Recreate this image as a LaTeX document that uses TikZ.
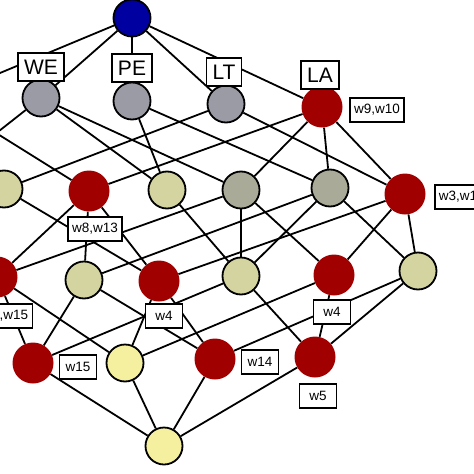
\documentclass[tikz,border=0pt]{standalone}
\usepackage{fontspec}
\setmainfont{Liberation Sans}
\usetikzlibrary{backgrounds}
\definecolor{topblue}{RGB}{0,0,160}
\definecolor{attrgray}{RGB}{155,155,165}
\definecolor{midgray}{RGB}{170,170,152}
\definecolor{lighttan}{RGB}{212,212,160}
\definecolor{paleyellow}{RGB}{245,240,160}
\definecolor{hitred}{RGB}{160,0,0}

\begin{document}
\begin{tikzpicture}[x=1pt,y=-1pt]
    \tikzstyle{state}=[shape=circle,draw,line width=1.8pt,minimum size=37pt,inner sep=0pt]
    \tikzstyle{hit}=[shape=circle,fill=hitred,minimum size=41pt,inner sep=0pt]
    \tikzstyle{attr}=[draw,line width=1.8pt,fill=white,font=\fontsize{21}{21}\selectfont,minimum height=28pt,inner xsep=6pt]
    \tikzstyle{obj}=[draw,line width=1.5pt,fill=white,font=\fontsize{13.5}{13.5}\selectfont,minimum height=24pt,minimum width=37pt,inner xsep=4pt]

    \useasboundingbox (0,0) rectangle (474,474);
    \clip (0,0) rectangle (474,474);

    % top
    \node[state,fill=topblue] (R0) at (132,18) {};

    % attributes
    \node[state,fill=attrgray] (A1) at (41,98) {};
    \node[state,fill=attrgray] (A2) at (132,101) {};
    \node[state,fill=attrgray] (A3) at (226,104) {};
    \node[hit] (A4) at (322,107) {};
    \node[attr] (LWE) at (41,67) {WE};
    \node[attr] (LPE) at (132,68) {PE};
    \node[attr] (LLT) at (224,72) {LT};
    \node[attr] (LLA) at (320,75) {LA};
    \node[obj] (O1) at (377,110) {w9,w10};

    % second row
    \node[state,fill=lighttan] (B1) at (4,189) {};
    \node[hit] (B2) at (89,191) {};
    \node[state,fill=lighttan] (B3) at (167,190) {};
    \node[state,fill=midgray] (B4) at (241,190) {};
    \node[state,fill=midgray] (B5) at (330,188) {};
    \node[hit] (B6) at (405,194) {};
    \node[obj] (O2) at (95,229) {w8,w13};
    \node[obj,anchor=west] (O3) at (434,197) {w3,w11};

    % third row
    \node[hit] (C1) at (-3,277) {};
    \node[state,fill=lighttan] (C2) at (84,280) {};
    \node[hit] (C3) at (159,281) {};
    \node[state,fill=lighttan] (C4) at (241,276) {};
    \node[hit] (C5) at (334,275) {};
    \node[state,fill=lighttan] (C6) at (418,271) {};
    \node[obj,anchor=east] (O4) at (33,316) {w1,w15};
    \node[obj] (O5) at (164,316) {w4};
    \node[obj] (O6) at (332,312) {w4};

    % fourth row
    \node[hit] (D1) at (33,363) {};
    \node[state,fill=paleyellow] (D2) at (125,363) {};
    \node[hit] (D3) at (215,359) {};
    \node[hit] (D4) at (315,357) {};
    \node[obj] (O7) at (78,367) {w15};
    \node[obj] (O8) at (260,362) {w14};
    \node[obj] (O9) at (318,396) {w5};

    % bottom
    \node[state,fill=paleyellow] (E1) at (164,446) {};

    % ends outside the frame
    \coordinate (X0) at (-60,98);
    \coordinate (Y0) at (-76,190);

    \begin{scope}[on background layer]
    \clip (0,0) rectangle (474,474);
    \path[draw,line width=1.8pt]
    (R0) edge (X0) (R0) edge (A1) (R0) edge (A2) (R0) edge (A3) (R0) edge (A4)
    (A1) edge (Y0) (A1) edge (B3) (A1) edge (B4)
    (A2) edge (B3) (A2) edge (B5)
    (A3) edge (B1) (A3) edge (B6)
    (A4) edge (B2) (A4) edge (B4) (A4) edge (B5) (A4) edge (B6)
    (X0) edge (B2)
    (B1) edge (C3)
    (B2) edge (C1) (B2) edge (C2) (B2) edge (C3)
    (B3) edge (C4)
    (B4) edge (C1) (B4) edge (C4) (B4) edge (C5)
    (B5) edge (C2) (B5) edge (C4) (B5) edge (C6)
    (B6) edge (C3) (B6) edge (C5) (B6) edge (C6)
    (C1) edge (D1) (C1) edge (D2)
    (C2) edge (D1) (C2) edge (D3)
    (C3) edge (D2) (C3) edge (D3)
    (C4) edge (D1) (C4) edge (D4)
    (C5) edge (D2) (C5) edge (D4)
    (C6) edge (D3) (C6) edge (D4)
    (D1) edge (E1) (D2) edge (E1) (D3) edge (E1) (D4) edge (E1)
    ;
    \end{scope}

\end{tikzpicture}
\end{document}
